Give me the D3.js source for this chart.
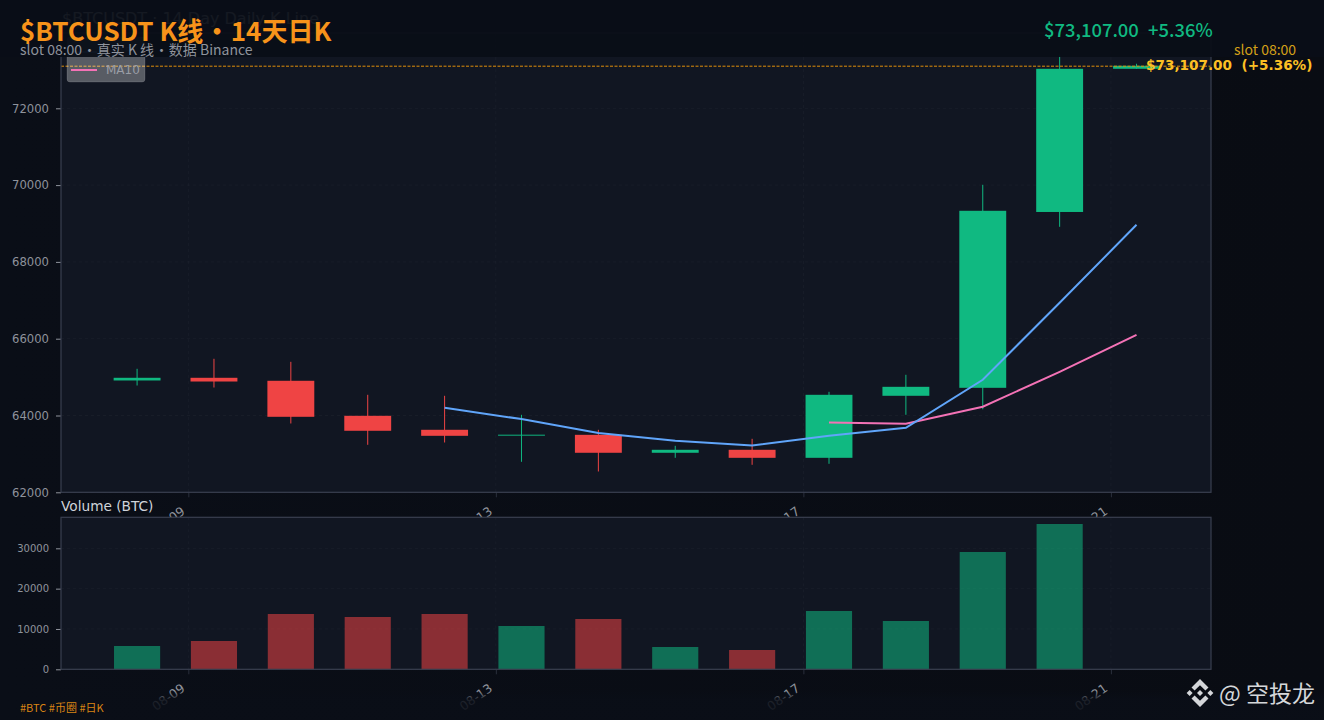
<!DOCTYPE html>
<html>
<head>
<meta charset="utf-8">
<title>BTCUSDT daily K</title>
<script src="https://cdn.jsdelivr.net/npm/d3@7"></script>
<style>
  html, body { margin: 0; padding: 0; background: #0a0e17; }
  svg { display: block; }
</style>
</head>
<body>
<svg id="chart" width="1324" height="720"></svg>
<script>
// Values
const dates = ["08-08", "08-09", "08-10", "08-11", "08-12", "08-13", "08-14", "08-15", "08-16", "08-17", "08-18", "08-19", "08-20", "08-21"];
const opens = [64912, 64982, 64904, 63992, 63628, 63475, 63497, 63029, 63107, 62898, 64513, 64721, 69300, 73029];
const closes = [64982, 64885, 63966, 63602, 63471, 63500, 63029, 63107, 62898, 64539, 64747, 69331, 73029, 73107];
const highs = [65216, 65477, 65398, 64539, 64513, 64018, 63628, 63211, 63393, 64617, 65060, 70008, 73400, 73160];
const lows = [64781, 64729, 63792, 63237, 63297, 62794, 62542, 62898, 62716, 62742, 64018, 64162, 68914, 73029];
const volumes = [5777, 7017, 13712, 12968, 13712, 10736, 12472, 5529, 4786, 14456, 11976, 29085, 36030, 30];
const ma5 = [null, null, null, null, 64201, 63906, 63542, 63341, 63219, 63471, 63680, 64930, 66935, 68966];
const ma10 = [null, null, null, null, null, null, null, null, null, 63820, 63784, 64227, 65138, 66102];
const priceTicks = [62000, 64000, 66000, 68000, 70000, 72000];
const volumeTicks = [0, 10000, 20000, 30000];
const dateTicks = ["08-09", "08-13", "08-17", "08-21"];
const lastPrice = 73107;
const slotHour = 8;

const green = "#10b981", red = "#ef4444", gold = "#fbbf24", orange = "#f7931a", grey = "#8f939c";
const cjk = "'Noto Sans CJK SC', sans-serif";
const dejavu = "'DejaVu Sans', sans-serif";

const svg = d3.select("#chart");
const left = 61, right = 1211;
const mainTop = 33, mainBottom = 492.3, volTop = 517.3, volBottom = 669.3;

const parseDay = d3.utcParse("%m-%d");
const times = dates.map((d) => d3.utcHour.offset(parseDay(d), slotHour));
const candles = dates.map((d, i) => ({
  t: times[i], open: opens[i], close: closes[i], high: highs[i], low: lows[i],
  volume: volumes[i], ma5: ma5[i], ma10: ma10[i],
}));

const x = d3.scaleUtc()
  .domain([d3.utcHour.offset(times[0], -23.4), d3.utcHour.offset(times[times.length - 1], 23.4)])
  .range([left - 0.8, right - 0.8]);
const dayWidth = x(times[1]) - x(times[0]);

const y = d3.scaleLinear().domain([62000, 73961]).range([mainBottom, mainTop]);
const yVol = d3.scaleLinear().domain([0, 37690]).range([volBottom, volTop]);

const defs = svg.append("defs");
defs.append("clipPath").attr("id", "mainClip").append("rect")
  .attr("x", left).attr("y", mainTop).attr("width", right - left).attr("height", mainBottom - mainTop);
const fade = defs.append("linearGradient").attr("id", "bottomFade")
  .attr("x1", 0).attr("y1", 0).attr("x2", 0).attr("y2", 1);
fade.append("stop").attr("offset", "0%").attr("stop-color", "#0a0e17").attr("stop-opacity", 0);
fade.append("stop").attr("offset", "30%").attr("stop-color", "#0a0e17").attr("stop-opacity", 0.85);
fade.append("stop").attr("offset", "100%").attr("stop-color", "#0a0e17").attr("stop-opacity", 0.93);
const edge = defs.append("linearGradient").attr("id", "edgeShade")
  .attr("x1", 0).attr("y1", 0).attr("x2", 1).attr("y2", 0);
edge.append("stop").attr("offset", "0%").attr("stop-color", "#0a0e17");
edge.append("stop").attr("offset", "100%").attr("stop-color", "#090c13");

svg.append("rect").attr("width", 1324).attr("height", 720).attr("fill", "url(#edgeShade)");

// Draws a panel background, grid and both axes
function drawPanel(yScale, yTicks, top, bottom, fontSize) {
  const g = svg.append("g");
  g.append("rect").attr("x", left).attr("y", top).attr("width", right - left).attr("height", bottom - top).attr("fill", "#111622");

  g.append("g").selectAll("line").data(yTicks).join("line")
    .attr("x1", left).attr("x2", right)
    .attr("y1", (d) => yScale(d)).attr("y2", (d) => yScale(d))
    .attr("stroke", "#ffffff").attr("stroke-opacity", 0.03).attr("stroke-dasharray", "3,3");
  g.append("g").selectAll("line").data(dateTicks).join("line")
    .attr("x1", (d) => x(parseDay(d))).attr("x2", (d) => x(parseDay(d)))
    .attr("y1", top).attr("y2", bottom)
    .attr("stroke", "#ffffff").attr("stroke-opacity", 0.03).attr("stroke-dasharray", "3,3");

  const axisY = g.append("g").attr("transform", `translate(${left},0)`)
    .call(d3.axisLeft(yScale).tickValues(yTicks).tickFormat(d3.format("d")).tickSize(5).tickPadding(7));
  axisY.selectAll("text").attr("fill", grey).attr("font-family", dejavu).attr("font-size", fontSize);
  axisY.selectAll("line").attr("stroke", grey);
  axisY.select(".domain").remove();

  const axisX = g.append("g").attr("transform", `translate(0,${bottom})`)
    .call(d3.axisBottom(x).tickValues(dateTicks.map(parseDay)).tickFormat(d3.utcFormat("%m-%d")).tickSize(5));
  axisX.select(".domain").remove();
  axisX.selectAll("line").attr("stroke", "#2a2f3c");
  axisX.selectAll("text")
    .attr("fill", grey).attr("font-family", dejavu).attr("font-size", 12.5)
    .attr("text-anchor", "end").attr("x", 0).attr("y", 0).attr("dx", "0").attr("dy", "0")
    .attr("transform", "translate(-3,21) rotate(-35)");

  return g;
}

function drawSpine(top, bottom) {
  svg.append("rect").attr("x", left).attr("y", top).attr("width", right - left).attr("height", bottom - top)
    .attr("fill", "none").attr("stroke", "#3a4050").attr("stroke-width", 1.2);
}

// Price panel
drawPanel(y, priceTicks, mainTop, mainBottom, 11.6);

const main = svg.append("g").attr("clip-path", "url(#mainClip)");

main.append("g").selectAll("line").data(candles).join("line")
  .attr("x1", (d) => x(d.t)).attr("x2", (d) => x(d.t))
  .attr("y1", (d) => y(d.high)).attr("y2", (d) => y(d.low))
  .attr("stroke", (d) => (d.close >= d.open ? green : red)).attr("stroke-width", 1);

main.append("g").selectAll("rect").data(candles).join("rect")
  .attr("x", (d) => x(d.t) - dayWidth * 0.305)
  .attr("width", dayWidth * 0.61)
  .attr("y", (d) => y(Math.max(d.open, d.close)))
  .attr("height", (d) => Math.abs(y(d.open) - y(d.close)))
  .attr("fill", (d) => (d.close >= d.open ? green : red));

const lineFor = (key) => d3.line()
  .defined((d) => d[key] !== null)
  .x((d) => x(d.t))
  .y((d) => y(d[key]));

main.append("path").datum(candles).attr("fill", "none").attr("stroke", "#f472b6").attr("stroke-width", 2).attr("d", lineFor("ma10"));
main.append("path").datum(candles).attr("fill", "none").attr("stroke", "#60a5fa").attr("stroke-width", 2).attr("d", lineFor("ma5"));

main.append("line")
  .attr("x1", left).attr("x2", right).attr("y1", y(lastPrice) + 0.4).attr("y2", y(lastPrice) + 0.4)
  .attr("stroke", "#e08e0b").attr("stroke-width", 1).attr("stroke-dasharray", "3,1.5");

drawSpine(mainTop, mainBottom);

// Legend, its upper row sits under the header band
const legend = svg.append("g");
legend.append("rect").attr("x", 67).attr("y", 37).attr("width", 78).attr("height", 45).attr("rx", 3)
  .attr("fill", "#ffffff").attr("fill-opacity", 0.3).attr("stroke", "#ffffff").attr("stroke-opacity", 0.12);
const legendRows = [{ name: "MA5", color: "#60a5fa", cy: 52 }, { name: "MA10", color: "#f472b6", cy: 70 }];
legendRows.forEach((row) => {
  legend.append("line").attr("x1", 71).attr("x2", 97).attr("y1", row.cy).attr("y2", row.cy)
    .attr("stroke", row.color).attr("stroke-width", 2);
  legend.append("text").attr("x", 106).attr("y", row.cy + 4).text(row.name)
    .attr("fill", "#9a9ea6").attr("font-family", dejavu).attr("font-size", 12);
});

// Volume panel covers the lower half of the price axis labels
drawPanel(yVol, volumeTicks, volTop, volBottom, 10);

svg.append("g").selectAll("rect").data(candles).join("rect")
  .attr("x", (d) => x(d.t) - dayWidth * 0.3)
  .attr("width", dayWidth * 0.6)
  .attr("y", (d) => yVol(d.volume))
  .attr("height", (d) => volBottom - yVol(d.volume))
  .attr("fill", (d) => (d.close >= d.open ? green : red))
  .attr("fill-opacity", 0.55);

drawSpine(volTop, volBottom);

svg.append("text").attr("x", left).attr("y", 511).text("Volume (BTC)")
  .attr("fill", "#d0d4da").attr("font-family", dejavu).attr("font-size", 13.7);

// Chart's own title, nearly hidden by the header band
svg.append("text").attr("x", 62).attr("y", 24).text("$BTCUSDT · 14 Day Daily K Line")
  .attr("fill", "#e5e7eb").attr("font-family", dejavu).attr("font-size", 16);

// Header and footer bands
svg.append("rect").attr("width", 1324).attr("height", 57).attr("fill", "#0a0e17").attr("fill-opacity", 0.95);
svg.append("rect").attr("y", 691).attr("width", 1324).attr("height", 29).attr("fill", "url(#bottomFade)");

const label = (tx, ty, text, fill, size, family, weight) => svg.append("text")
  .attr("x", tx).attr("y", ty).text(text).attr("fill", fill)
  .attr("font-family", family).attr("font-size", size).attr("font-weight", weight || 400)
  .style("white-space", "pre");

// The CJK font sets the middle dot full width, the reference has it narrower
const dotted = (tx, ty, parts, fill, size, weight) => {
  const t = label(tx, ty, "", fill, size, cjk, weight);
  parts.forEach((part, i) => {
    if (i > 0) t.append("tspan").attr("dx", "-0.2em").text("·");
    const last = i === parts.length - 1;
    t.append("tspan").attr("dx", i > 0 ? "-0.2em" : 0).text((i > 0 ? " " : "") + part + (last ? "" : " "));
  });
  return t;
};

dotted(20, 41, ["$BTCUSDT K线", "14天日K"], orange, 26, 700);
dotted(20, 55, ["slot 08:00", "真实 K 线", "数据 Binance"], grey, 14, 400);
label(1044, 37, "$73,107.00", green, 18.4, cjk, 500);
label(1148, 37, "+5.36%", green, 18.4, cjk, 500);
label(1234, 55, "slot 08:00", "#d4a017", 14, cjk);
label(1146, 70, "$73,107.00  (+5.36%)", gold, 13.6, dejavu, 700);
label(20, 712, "#BTC #币圈 #日K", "#d98414", 11, cjk);
label(1219, 702, "@ 空投龙", "#d5d7da", 23, cjk);

// Watermark logo
const logo = svg.append("g").attr("transform", "translate(1200,693)").attr("fill", "#d5d7da");
logo.append("path").attr("d", "M0,-14 L8.5,-5.5 L5.4,-2.4 L0,-7.8 L-5.4,-2.4 L-8.5,-5.5 Z");
logo.append("path").attr("d", "M0,14 L8.5,5.5 L5.4,2.4 L0,7.8 L-5.4,2.4 L-8.5,5.5 Z");
logo.append("path").attr("d", "M0,-3 L3,0 L0,3 L-3,0 Z");
logo.append("path").attr("d", "M-10.4,-3 L-7.4,0 L-10.4,3 L-13.4,0 Z");
logo.append("path").attr("d", "M10.4,-3 L13.4,0 L10.4,3 L7.4,0 Z");
</script>
</body>
</html>
